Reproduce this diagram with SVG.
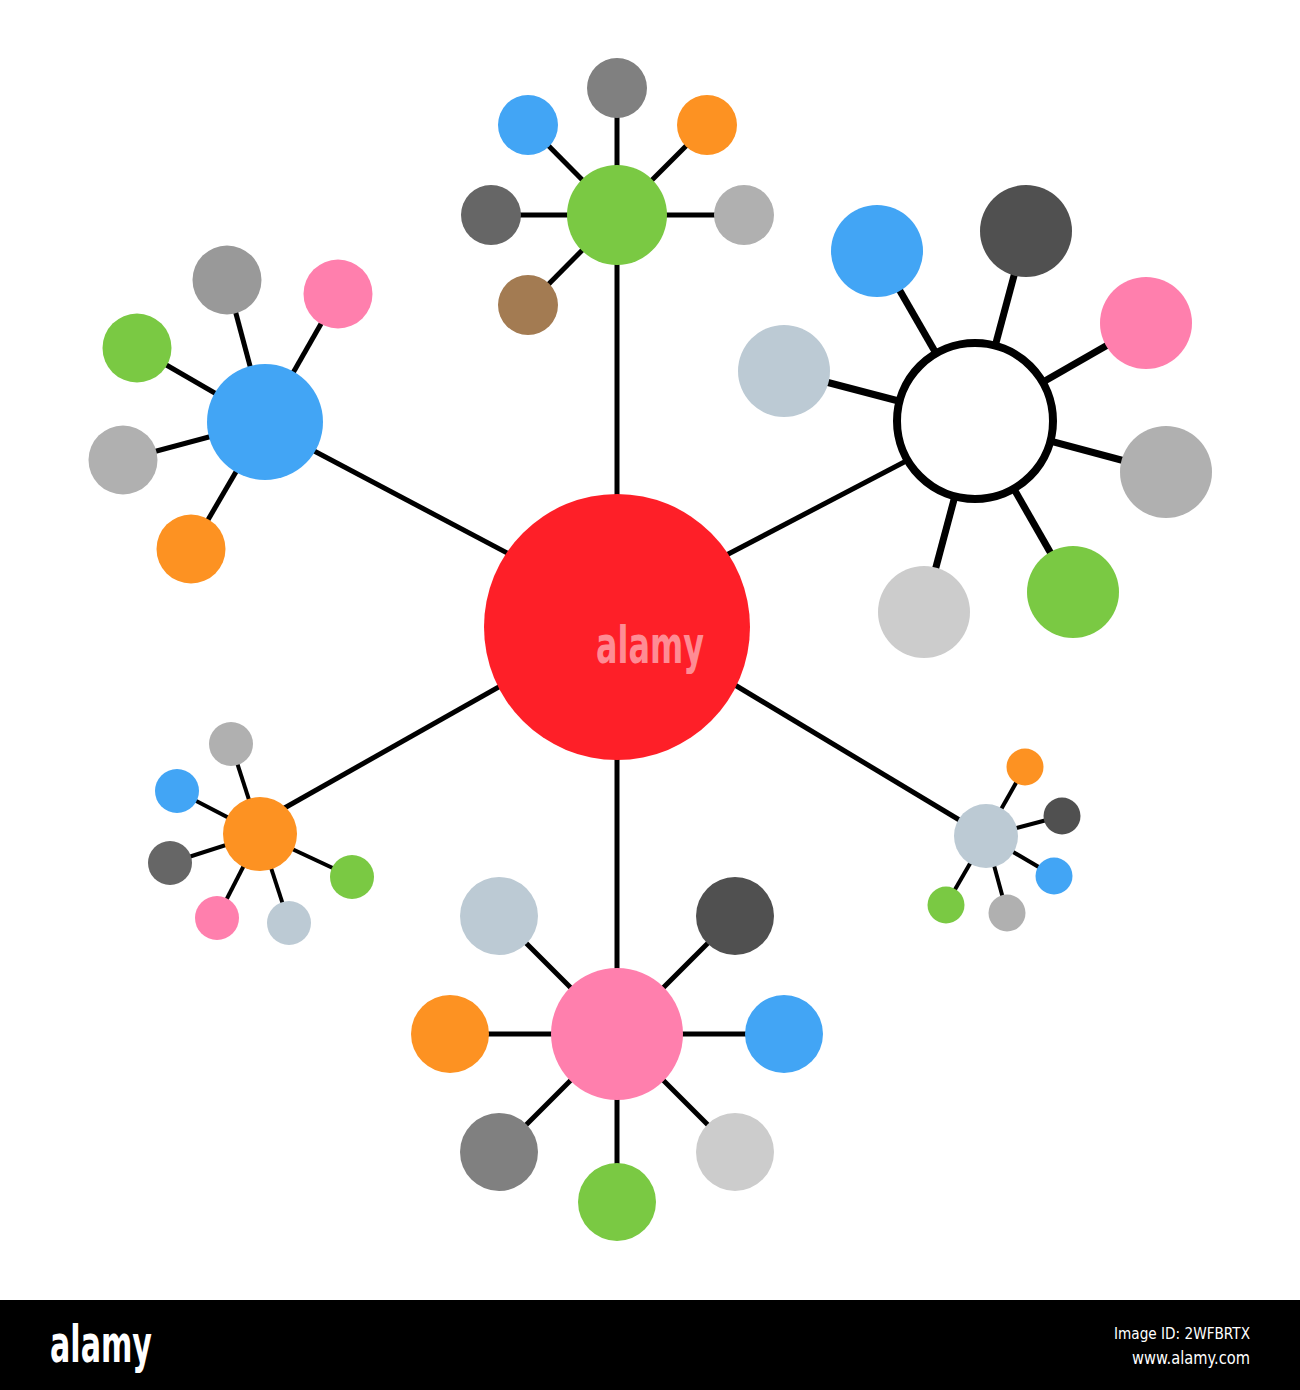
<svg xmlns="http://www.w3.org/2000/svg" width="1300" height="1390" viewBox="0 0 1300 1390">
<style>
.l{stroke:#000;stroke-linecap:butt;fill:none}
.m{stroke-width:5}
.s{stroke-width:5}
.t{stroke-width:4}
.w{stroke-width:7}
.red{fill:#fe1f28}.grn{fill:#7ac943}.blu{fill:#42a5f5}.org{fill:#fd9222}.pnk{fill:#ff7fad}
.g80{fill:#808080}.g66{fill:#666666}.gb0{fill:#b0b0b0}.g99{fill:#999999}.g50{fill:#505050}.gcc{fill:#cccccc}.bg{fill:#bccad4}.brn{fill:#a37b52}
.wm{font-family:"DejaVu Sans","Liberation Sans",sans-serif;font-weight:bold}
.ft{font-family:"DejaVu Sans","Liberation Sans",sans-serif;fill:#fff}
</style>
<rect width="1300" height="1390" fill="#fff"/>
<g id="connectors">
<line class="l m" x1="617" y1="627" x2="617" y2="215"/>
<line class="l m" x1="713" y1="562" x2="975" y2="425"/>
<line class="l m" x1="526" y1="563" x2="265" y2="425"/>
<line class="l m" x1="518" y1="676" x2="265" y2="819"/>
<line class="l m" x1="715" y1="673" x2="986" y2="836"/>
<line class="l m" x1="617" y1="627" x2="617" y2="1034"/>
<line class="l s" x1="617" y1="215" x2="617" y2="88"/>
<line class="l s" x1="617" y1="215" x2="528" y2="125"/>
<line class="l s" x1="617" y1="215" x2="707" y2="125"/>
<line class="l s" x1="617" y1="215" x2="491" y2="215"/>
<line class="l s" x1="617" y1="215" x2="744" y2="215"/>
<line class="l s" x1="617" y1="215" x2="528" y2="305"/>
<line class="l w" x1="975" y1="421" x2="877" y2="251"/>
<line class="l w" x1="975" y1="421" x2="1026" y2="231"/>
<line class="l w" x1="975" y1="421" x2="1146" y2="323"/>
<line class="l w" x1="975" y1="421" x2="784" y2="371"/>
<line class="l w" x1="975" y1="421" x2="1166" y2="472"/>
<line class="l w" x1="975" y1="421" x2="1073" y2="592"/>
<line class="l w" x1="975" y1="421" x2="924" y2="612"/>
<line class="l s" x1="265" y1="422" x2="227" y2="280"/>
<line class="l s" x1="265" y1="422" x2="338" y2="294"/>
<line class="l s" x1="265" y1="422" x2="137" y2="348"/>
<line class="l s" x1="265" y1="422" x2="123" y2="460"/>
<line class="l s" x1="265" y1="422" x2="191" y2="549"/>
<line class="l t" x1="260" y1="834" x2="231" y2="744"/>
<line class="l t" x1="260" y1="834" x2="177" y2="791"/>
<line class="l t" x1="260" y1="834" x2="170" y2="863"/>
<line class="l t" x1="260" y1="834" x2="217" y2="918"/>
<line class="l t" x1="260" y1="834" x2="289" y2="923"/>
<line class="l t" x1="260" y1="834" x2="352" y2="877"/>
<line class="l t" x1="986" y1="836" x2="1025" y2="767"/>
<line class="l t" x1="986" y1="836" x2="1062" y2="816"/>
<line class="l t" x1="986" y1="836" x2="1054" y2="876"/>
<line class="l t" x1="986" y1="836" x2="1007" y2="913"/>
<line class="l t" x1="986" y1="836" x2="946" y2="905"/>
<line class="l s" x1="617" y1="1034" x2="499" y2="916"/>
<line class="l s" x1="617" y1="1034" x2="735" y2="916"/>
<line class="l s" x1="617" y1="1034" x2="450" y2="1034"/>
<line class="l s" x1="617" y1="1034" x2="784" y2="1034"/>
<line class="l s" x1="617" y1="1034" x2="499" y2="1152"/>
<line class="l s" x1="617" y1="1034" x2="735" y2="1152"/>
<line class="l s" x1="617" y1="1034" x2="617" y2="1202"/>
</g>
<g id="center"><circle class="red" cx="617" cy="627" r="133"/>
<text class="wm" x="596" y="663" font-size="52" fill="#fe8c94" textLength="108" lengthAdjust="spacingAndGlyphs">alamy</text></g>
<g id="top-cluster">
<circle id="top-hub" class="grn" cx="617" cy="215" r="50"/>
<circle class="g80" cx="617" cy="88" r="30"/>
<circle class="blu" cx="528" cy="125" r="30"/>
<circle class="org" cx="707" cy="125" r="30"/>
<circle class="g66" cx="491" cy="215" r="30"/>
<circle class="gb0" cx="744" cy="215" r="30"/>
<circle class="brn" cx="528" cy="305" r="30"/>
</g>
<g id="right-cluster">
<circle id="right-hub" cx="975" cy="421" r="78" fill="#fff" stroke="#000" stroke-width="8"/>
<circle class="blu" cx="877" cy="251" r="46"/>
<circle class="g50" cx="1026" cy="231" r="46"/>
<circle class="pnk" cx="1146" cy="323" r="46"/>
<circle class="bg" cx="784" cy="371" r="46"/>
<circle class="gb0" cx="1166" cy="472" r="46"/>
<circle class="grn" cx="1073" cy="592" r="46"/>
<circle class="gcc" cx="924" cy="612" r="46"/>
</g>
<g id="topleft-cluster">
<circle id="topleft-hub" class="blu" cx="265" cy="422" r="58"/>
<circle class="g99" cx="227" cy="280" r="34.5"/>
<circle class="pnk" cx="338" cy="294" r="34.5"/>
<circle class="grn" cx="137" cy="348" r="34.5"/>
<circle class="gb0" cx="123" cy="460" r="34.5"/>
<circle class="org" cx="191" cy="549" r="34.5"/>
</g>
<g id="bottomleft-cluster">
<circle id="bottomleft-hub" class="org" cx="260" cy="834" r="37"/>
<circle class="gb0" cx="231" cy="744" r="22"/>
<circle class="blu" cx="177" cy="791" r="22"/>
<circle class="g66" cx="170" cy="863" r="22"/>
<circle class="pnk" cx="217" cy="918" r="22"/>
<circle class="bg" cx="289" cy="923" r="22"/>
<circle class="grn" cx="352" cy="877" r="22"/>
</g>
<g id="bottomright-cluster">
<circle id="bottomright-hub" class="bg" cx="986" cy="836" r="32"/>
<circle class="org" cx="1025" cy="767" r="18.5"/>
<circle class="g50" cx="1062" cy="816" r="18.5"/>
<circle class="blu" cx="1054" cy="876" r="18.5"/>
<circle class="gb0" cx="1007" cy="913" r="18.5"/>
<circle class="grn" cx="946" cy="905" r="18.5"/>
</g>
<g id="bottom-cluster">
<circle id="bottom-hub" class="pnk" cx="617" cy="1034" r="66"/>
<circle class="bg" cx="499" cy="916" r="39"/>
<circle class="g50" cx="735" cy="916" r="39"/>
<circle class="org" cx="450" cy="1034" r="39"/>
<circle class="blu" cx="784" cy="1034" r="39"/>
<circle class="g80" cx="499" cy="1152" r="39"/>
<circle class="gcc" cx="735" cy="1152" r="39"/>
<circle class="grn" cx="617" cy="1202" r="39"/>
</g>
<g id="footer">
<rect x="0" y="1300" width="1300" height="90" fill="#000"/>
<text class="wm" x="50" y="1362" font-size="52" fill="#fff" textLength="102" lengthAdjust="spacingAndGlyphs">alamy</text>
<text class="ft" x="1250" y="1339" font-size="15" text-anchor="end" textLength="136" lengthAdjust="spacingAndGlyphs">Image ID: 2WFBRTX</text>
<text class="ft" x="1250" y="1364" font-size="17" text-anchor="end" textLength="118" lengthAdjust="spacingAndGlyphs">www.alamy.com</text>
</g>
</svg>
